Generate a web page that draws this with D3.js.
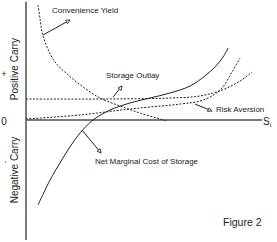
<!DOCTYPE html>
<html>
<head>
<meta charset="utf-8">
<script src="https://cdn.jsdelivr.net/npm/d3@7"></script>
<style>
  body { margin: 0; background: #fff; }
  text { font-family: "Liberation Sans", Arial, sans-serif; fill: #222; }
</style>
</head>
<body>
<script>
const svgW = 277;
const svgH = 242;

// curves: [S_t, carry]
const netMarginalCost = [[5.1,-70.8],[10.2,-50],[14.4,-35.8],[18.6,-22.5],[22.9,-10.8],[28.4,0],[35.6,8.3],[44.1,14.2],[52.5,18.3],[61,22.5],[69.5,28.3],[75.8,36.7],[80.1,44.2],[83.5,52.5],[85.6,60]];
const convenienceYield = [[5.1,95.8],[5.9,85],[6.8,73.3],[8.9,60.8],[12.3,48.3],[17.4,38.3],[24.2,27.5],[31.4,18.3],[39.8,11.7],[48.3,5.8],[59.7,-0.8]];
const storageOutlay = [[0,17.5],[31.4,17.5],[61,18.3],[73.7,20],[83.1,25],[90.7,32.5],[95.8,40]];
const riskAversion = [[0,0.8],[22.9,4.2],[44.1,9.2],[65.3,13.3],[73.7,15.8],[78.8,20],[83.1,26.7],[87.3,40],[90.7,51.7]];

// labels with arrow from / to (data units)
const labels = ['Convenience Yield', 'Storage Outlay', 'Risk Aversion', 'Net Marginal Cost of Storage'];
const arrowFrom = [[7.2,70.8],[36.9,19.2],[71.6,13.3],[23.7,-8.3]];
const arrowTo = [[18.6,83.3],[40.7,28.3],[78.8,7.5],[31.8,-27.5]];
const labelAt = [[11,89],[33.9,35],[80.5,6.7],[29.2,-36.7]];

const x = d3.scaleLinear().domain([0, 100]).range([26, 262]);
const y = d3.scaleLinear().domain([-100, 100]).range([240, 0]);

const svg = d3.select('body')
              .append('svg')
              .attr('width', svgW)
              .attr('height', svgH);

svg.append('defs').append('marker')
    .attr('id', 'tri')
    .attr('viewBox', '0 0 10 10')
    .attr('refX', 9).attr('refY', 5)
    .attr('markerWidth', 5).attr('markerHeight', 5)
    .attr('markerUnits', 'userSpaceOnUse')
    .attr('orient', 'auto')
  .append('path')
    .attr('d', 'M1,1 L9,5 L1,9 Z')
    .attr('fill', '#fff')
    .attr('stroke', '#222')
    .attr('stroke-width', 1.6);

// axes
svg.append('line')
    .attr('x1', x(0)).attr('x2', x(0))
    .attr('y1', y(98.5)).attr('y2', y(-100))
    .attr('stroke', '#7a7a7a').attr('stroke-width', 2);
svg.append('line')
    .attr('x1', x(0)).attr('x2', x(100))
    .attr('y1', y(0)).attr('y2', y(0))
    .attr('stroke', '#7a7a7a').attr('stroke-width', 2);

const line = d3.line()
                .x(d => x(d[0]))
                .y(d => y(d[1]))
                .curve(d3.curveCatmullRom);

const curves = [
  {data: convenienceYield, dash: '2,1.5'},
  {data: storageOutlay, dash: '2,1.5'},
  {data: riskAversion, dash: '2,1.5'},
  {data: netMarginalCost, dash: null}
];
svg.selectAll('path.curve')
    .data(curves)
    .enter()
    .append('path')
    .attr('class', 'curve')
    .attr('d', d => line(d.data))
    .attr('fill', 'none')
    .attr('stroke', '#222')
    .attr('stroke-width', 1)
    .attr('stroke-dasharray', d => d.dash);

// annotation arrows
svg.selectAll('line.arrow')
    .data(labels)
    .enter()
    .append('line')
    .attr('class', 'arrow')
    .attr('x1', (d, i) => x(arrowFrom[i][0]))
    .attr('y1', (d, i) => y(arrowFrom[i][1]))
    .attr('x2', (d, i) => x(arrowTo[i][0]))
    .attr('y2', (d, i) => y(arrowTo[i][1]))
    .attr('stroke', '#222')
    .attr('stroke-width', 1)
    .attr('marker-end', 'url(#tri)');

svg.selectAll('text.lab')
    .data(labels)
    .enter()
    .append('text')
    .attr('class', 'lab')
    .attr('x', (d, i) => x(labelAt[i][0]))
    .attr('y', (d, i) => y(labelAt[i][1]))
    .attr('font-size', 8)
    .text(d => d);

// axis texts
svg.append('text')
    .attr('transform', `translate(18, 69) rotate(-90)`)
    .attr('text-anchor', 'middle')
    .attr('font-size', 10)
    .text('Positive Carry');
svg.append('text')
    .attr('transform', `translate(18, 170) rotate(-90)`)
    .attr('text-anchor', 'middle')
    .attr('font-size', 10)
    .text('Negative Carry');
svg.append('text')
    .attr('x', 4).attr('y', 77)
    .attr('text-anchor', 'middle')
    .attr('font-size', 9)
    .text('+');
svg.append('text')
    .attr('transform', `translate(7, 162) rotate(-90)`)
    .attr('text-anchor', 'middle')
    .attr('font-size', 8)
    .text('-');
svg.append('text')
    .attr('x', 4).attr('y', 125)
    .attr('text-anchor', 'middle')
    .attr('font-size', 10)
    .text('0');

const st = svg.append('text')
    .attr('x', 263).attr('y', 125)
    .attr('font-size', 10)
    .text('S');
st.append('tspan')
    .attr('font-size', 6)
    .attr('dy', 2)
    .text('t');

svg.append('text')
    .attr('x', 223).attr('y', 226)
    .attr('font-size', 10.5)
    .text('Figure 2');
</script>
</body>
</html>
